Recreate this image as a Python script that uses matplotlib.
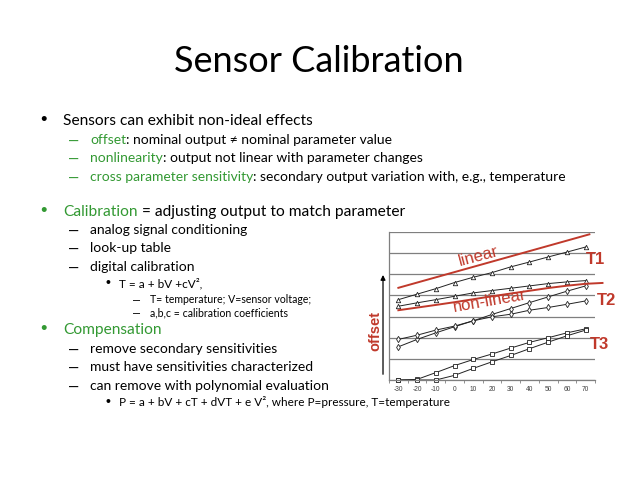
import matplotlib
matplotlib.use("Agg")
import matplotlib.pyplot as plt

W, H = 638, 478
DPI = 100

# ---- chart data (y in grid units, 0..7) ----
temps = [-30, -20, -10, 0, 10, 20, 30, 40, 50, 60, 70]
t1_steep = [3.80, 4.06, 4.32, 4.61, 4.86, 5.08, 5.35, 5.58, 5.82, 6.05, 6.29]
t1_flat = [3.49, 3.65, 3.80, 3.96, 4.12, 4.23, 4.34, 4.45, 4.56, 4.64, 4.70]
t2_steep = [1.57, 1.92, 2.23, 2.52, 2.80, 3.10, 3.38, 3.66, 3.93, 4.20, 4.45]
t2_flat = [1.92, 2.12, 2.36, 2.55, 2.80, 2.99, 3.11, 3.30, 3.43, 3.58, 3.74]
t3_upper = [0.00, 0.03, 0.35, 0.68, 0.97, 1.23, 1.51, 1.78, 2.00, 2.23, 2.42]
t3_lower = [0.00, 0.00, 0.00, 0.22, 0.55, 0.86, 1.16, 1.48, 1.79, 2.09, 2.36]
linear_x = [-30, 72]
linear_y = [4.36, 6.89]
nonlin_x = [-30, -10, 0, 10, 20, 30, 40, 50, 60, 70, 79]
nonlin_y = [3.30, 3.55, 3.68, 3.82, 3.96, 4.09, 4.22, 4.35, 4.46, 4.55, 4.59]
xtick_vals = [-30, -20, -10, 0, 10, 20, 30, 40, 50, 60, 70]

# ---- slide text ----
BLACK = "#000000"
GREEN = "#339933"
RED = "#c0392b"

title = "Sensor Calibration"
rows = [
    (1, 121, [("Sensors can exhibit non-ideal effects", BLACK)]),
    (2, 140, [("offset", GREEN), (": nominal output \u2260 nominal parameter value", BLACK)]),
    (2, 158, [("nonlinearity", GREEN), (": output not linear with parameter changes", BLACK)]),
    (2, 177, [("cross parameter sensitivity", GREEN),
              (": secondary output variation with, e.g., temperature", BLACK)]),
    (1, 212, [("Calibration", GREEN), (" = adjusting output to match parameter", BLACK)]),
    (2, 230, [("analog signal conditioning", BLACK)]),
    (2, 248, [("look-up table", BLACK)]),
    (2, 267, [("digital calibration", BLACK)]),
    (3, 284, [("T = a + bV +cV\u00b2,", BLACK)]),
    (4, 300, [("T= temperature; V=sensor voltage;", BLACK)]),
    (4, 313, [("a,b,c = calibration coefficients", BLACK)]),
    (1, 330, [("Compensation", GREEN)]),
    (2, 349, [("remove secondary sensitivities", BLACK)]),
    (2, 367, [("must have sensitivities characterized", BLACK)]),
    (2, 386, [("can remove with polynomial evaluation", BLACK)]),
    (3, 403, [("P = a + bV + cT + dVT + e V\u00b2, where P=pressure, T=temperature", BLACK)]),
]

# level -> (marker, marker x, text x, font size, marker drop in px)
levels = {
    1: ("\u2022", 40, 63, 11.2, 0.0),
    2: ("\u2013", 69, 90, 10.0, 1.5),
    3: ("\u2022", 106, 119, 8.5, 0.0),
    4: ("\u2013", 133, 150, 7.6, 1.0),
}

FONT = ["Lato", "DejaVu Sans"]
CHART_FONT = ["Liberation Sans", "DejaVu Sans"]


def fx(px):
    return px / W


def fy(py):
    return 1 - py / H


def main():
    fig = plt.figure(figsize=(W / DPI, H / DPI), dpi=DPI)
    fig.patch.set_facecolor("white")
    renderer = fig.canvas.get_renderer()

    fig.text(fx(319), fy(72), title, ha="center", va="baseline",
             fontsize=26, family=FONT, color=BLACK)

    for level, yc, parts in rows:
        marker, mx, tx, size, drop = levels[level]
        base = yc + size * 0.4
        fig.text(fx(mx), fy(base + drop), marker, ha="left", va="baseline",
                 fontsize=size * 1.2, family=CHART_FONT, color=parts[0][1])
        x = tx
        for txt, col in parts:
            t = fig.text(fx(x), fy(base), txt, ha="left", va="baseline",
                         fontsize=size, family=FONT, color=col)
            x += t.get_window_extent(renderer).width

    # ---- chart ----
    left, right, top, bottom = 389, 595, 232, 380
    ax = fig.add_axes([fx(left), fy(bottom), (right - left) / W, (bottom - top) / H])
    ax.set_xlim(-35, 75)
    ax.set_ylim(0, 7)
    ax.set_yticks(range(8))
    ax.set_yticklabels([])
    ax.tick_params(axis="y", length=0)
    ax.grid(axis="y", color="#7f7f7f", lw=0.9)
    ax.set_axisbelow(True)
    for s in ["top", "right"]:
        ax.spines[s].set_visible(False)
    for s in ["left", "bottom"]:
        ax.spines[s].set_color("#7f7f7f")
        ax.spines[s].set_linewidth(0.9)
    ax.set_xticks(xtick_vals)
    ax.set_xticklabels([str(v) for v in xtick_vals], fontsize=4.8,
                       family=CHART_FONT, color="#404040")
    ax.set_xticks([v + 5 for v in [-40] + xtick_vals], minor=True)
    ax.tick_params(axis="x", which="major", length=0, pad=4)
    ax.tick_params(axis="x", which="minor", length=2, color="#7f7f7f", direction="out")

    mk = dict(color="#222222", lw=0.7, ms=3.2, mew=0.6, mfc="white", clip_on=False)
    ax.plot(temps, t1_steep, marker="^", **mk)
    ax.plot(temps, t1_flat, marker="^", **mk)
    ax.plot(temps, t2_steep, marker="d", **mk)
    ax.plot(temps, t2_flat, marker="d", **mk)
    ax.plot(temps, t3_upper, marker="s", **mk)
    ax.plot(temps, t3_lower, marker="s", **mk)

    ax.plot(linear_x, linear_y, color=RED, lw=1.4, clip_on=False)
    ax.plot(nonlin_x, nonlin_y, color=RED, lw=1.4, clip_on=False)

    ax.text(13, 5.85, "linear", color=RED, fontsize=12, family=CHART_FONT,
            rotation=15, ha="center", va="center")
    ax.text(19, 3.75, "non-linear", color=RED, fontsize=12, family=CHART_FONT,
            rotation=10, ha="center", va="center")
    for lab, x, y in [("T1", 75.5, 5.72), ("T2", 81.2, 3.75), ("T3", 77.6, 1.70)]:
        ax.text(x, y, lab, color=RED, fontsize=12, fontweight="bold",
                family=CHART_FONT, ha="center", va="center", clip_on=False)

    ax.text(-42.5, 2.32, "offset", color=RED, fontsize=10.5, fontweight="bold",
            family=CHART_FONT, rotation=90, ha="center", va="center")
    ax.annotate("", xy=(-38.2, 5.1), xytext=(-38.2, 0.14),
                arrowprops=dict(arrowstyle="-|>", color="black", lw=0.9,
                                mutation_scale=7),
                annotation_clip=False)

    fig.savefig("out.png", dpi=DPI)


if __name__ == "__main__":
    main()
